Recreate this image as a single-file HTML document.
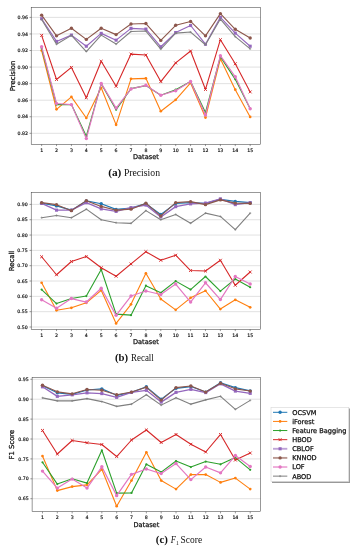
<!DOCTYPE html>
<html><head><meta charset="utf-8"><style>
html,body{margin:0;padding:0;background:#fff;}
body{width:356px;height:550px;overflow:hidden;}
svg{display:block;}
.tk{font-family:"DejaVu Sans","Liberation Sans",sans-serif;font-size:4.7px;fill:#111;stroke:#111;stroke-width:0.16px;}
.lb{font-family:"DejaVu Sans","Liberation Sans",sans-serif;font-size:6.6px;fill:#111;stroke:#111;stroke-width:0.25px;}
.lg{font-family:"DejaVu Sans","Liberation Sans",sans-serif;font-size:6.6px;fill:#111;stroke:#111;stroke-width:0.25px;}
.cap{font-family:"Liberation Serif","DejaVu Serif",serif;font-size:9.3px;fill:#111;}
</style></head><body>
<svg width="356" height="550" viewBox="0 0 356 550">
<rect width="356" height="550" fill="#fff"/>
<line x1="31.20" y1="133.32" x2="260.60" y2="133.32" stroke="#d9d9d9" stroke-width="0.8"/>
<line x1="31.20" y1="116.76" x2="260.60" y2="116.76" stroke="#d9d9d9" stroke-width="0.8"/>
<line x1="31.20" y1="100.20" x2="260.60" y2="100.20" stroke="#d9d9d9" stroke-width="0.8"/>
<line x1="31.20" y1="83.64" x2="260.60" y2="83.64" stroke="#d9d9d9" stroke-width="0.8"/>
<line x1="31.20" y1="67.08" x2="260.60" y2="67.08" stroke="#d9d9d9" stroke-width="0.8"/>
<line x1="31.20" y1="50.52" x2="260.60" y2="50.52" stroke="#d9d9d9" stroke-width="0.8"/>
<line x1="31.20" y1="33.96" x2="260.60" y2="33.96" stroke="#d9d9d9" stroke-width="0.8"/>
<line x1="31.20" y1="17.40" x2="260.60" y2="17.40" stroke="#d9d9d9" stroke-width="0.8"/>
<polyline points="41.63,50.52 56.52,109.31 71.42,96.89 86.32,118.00 101.21,87.78 116.11,124.87 131.00,78.84 145.90,78.34 160.80,111.21 175.69,99.79 190.59,82.98 205.48,117.59 220.38,58.80 235.28,89.68 250.17,116.93" fill="none" stroke="#ff7f0e" stroke-width="1.1" stroke-linejoin="round"/>
<circle cx="41.63" cy="50.52" r="1.35" fill="#ff7f0e"/>
<circle cx="56.52" cy="109.31" r="1.35" fill="#ff7f0e"/>
<circle cx="71.42" cy="96.89" r="1.35" fill="#ff7f0e"/>
<circle cx="86.32" cy="118.00" r="1.35" fill="#ff7f0e"/>
<circle cx="101.21" cy="87.78" r="1.35" fill="#ff7f0e"/>
<circle cx="116.11" cy="124.87" r="1.35" fill="#ff7f0e"/>
<circle cx="131.00" cy="78.84" r="1.35" fill="#ff7f0e"/>
<circle cx="145.90" cy="78.34" r="1.35" fill="#ff7f0e"/>
<circle cx="160.80" cy="111.21" r="1.35" fill="#ff7f0e"/>
<circle cx="175.69" cy="99.79" r="1.35" fill="#ff7f0e"/>
<circle cx="190.59" cy="82.98" r="1.35" fill="#ff7f0e"/>
<circle cx="205.48" cy="117.59" r="1.35" fill="#ff7f0e"/>
<circle cx="220.38" cy="58.80" r="1.35" fill="#ff7f0e"/>
<circle cx="235.28" cy="89.68" r="1.35" fill="#ff7f0e"/>
<circle cx="250.17" cy="116.93" r="1.35" fill="#ff7f0e"/>
<polyline points="41.63,48.04 56.52,104.59 71.42,104.59 86.32,136.14 101.21,83.64 116.11,109.72 131.00,88.61 145.90,85.63 160.80,95.23 175.69,89.68 190.59,81.57 205.48,112.45 220.38,56.65 235.28,79.33 250.17,108.73" fill="none" stroke="#2ca02c" stroke-width="1.1" stroke-linejoin="round"/>
<circle cx="41.63" cy="48.04" r="1.1" fill="#2ca02c"/>
<circle cx="56.52" cy="104.59" r="1.1" fill="#2ca02c"/>
<circle cx="71.42" cy="104.59" r="1.1" fill="#2ca02c"/>
<circle cx="86.32" cy="136.14" r="1.1" fill="#2ca02c"/>
<circle cx="101.21" cy="83.64" r="1.1" fill="#2ca02c"/>
<circle cx="116.11" cy="109.72" r="1.1" fill="#2ca02c"/>
<circle cx="131.00" cy="88.61" r="1.1" fill="#2ca02c"/>
<circle cx="145.90" cy="85.63" r="1.1" fill="#2ca02c"/>
<circle cx="160.80" cy="95.23" r="1.1" fill="#2ca02c"/>
<circle cx="175.69" cy="89.68" r="1.1" fill="#2ca02c"/>
<circle cx="190.59" cy="81.57" r="1.1" fill="#2ca02c"/>
<circle cx="205.48" cy="112.45" r="1.1" fill="#2ca02c"/>
<circle cx="220.38" cy="56.65" r="1.1" fill="#2ca02c"/>
<circle cx="235.28" cy="79.33" r="1.1" fill="#2ca02c"/>
<circle cx="250.17" cy="108.73" r="1.1" fill="#2ca02c"/>
<polyline points="41.63,35.37 56.52,79.50 71.42,67.41 86.32,97.72 101.21,61.28 116.11,86.29 131.00,54.08 145.90,55.07 160.80,81.57 175.69,62.94 190.59,51.02 205.48,89.44 220.38,39.67 235.28,63.77 250.17,91.92" fill="none" stroke="#d62728" stroke-width="1.1" stroke-linejoin="round"/>
<path d="M40.18 33.92L43.08 36.82M40.18 36.82L43.08 33.92" stroke="#d62728" stroke-width="0.95" fill="none"/>
<path d="M55.07 78.05L57.97 80.95M55.07 80.95L57.97 78.05" stroke="#d62728" stroke-width="0.95" fill="none"/>
<path d="M69.97 65.96L72.87 68.86M69.97 68.86L72.87 65.96" stroke="#d62728" stroke-width="0.95" fill="none"/>
<path d="M84.87 96.27L87.77 99.17M84.87 99.17L87.77 96.27" stroke="#d62728" stroke-width="0.95" fill="none"/>
<path d="M99.76 59.83L102.66 62.73M99.76 62.73L102.66 59.83" stroke="#d62728" stroke-width="0.95" fill="none"/>
<path d="M114.66 84.84L117.56 87.74M114.66 87.74L117.56 84.84" stroke="#d62728" stroke-width="0.95" fill="none"/>
<path d="M129.55 52.63L132.45 55.53M129.55 55.53L132.45 52.63" stroke="#d62728" stroke-width="0.95" fill="none"/>
<path d="M144.45 53.62L147.35 56.52M144.45 56.52L147.35 53.62" stroke="#d62728" stroke-width="0.95" fill="none"/>
<path d="M159.35 80.12L162.25 83.02M159.35 83.02L162.25 80.12" stroke="#d62728" stroke-width="0.95" fill="none"/>
<path d="M174.24 61.49L177.14 64.39M174.24 64.39L177.14 61.49" stroke="#d62728" stroke-width="0.95" fill="none"/>
<path d="M189.14 49.57L192.04 52.47M189.14 52.47L192.04 49.57" stroke="#d62728" stroke-width="0.95" fill="none"/>
<path d="M204.03 87.99L206.93 90.89M204.03 90.89L206.93 87.99" stroke="#d62728" stroke-width="0.95" fill="none"/>
<path d="M218.93 38.22L221.83 41.12M218.93 41.12L221.83 38.22" stroke="#d62728" stroke-width="0.95" fill="none"/>
<path d="M233.83 62.32L236.73 65.22M233.83 65.22L236.73 62.32" stroke="#d62728" stroke-width="0.95" fill="none"/>
<path d="M248.72 90.47L251.62 93.37M248.72 93.37L251.62 90.47" stroke="#d62728" stroke-width="0.95" fill="none"/>
<polyline points="41.63,18.72 56.52,41.41 71.42,35.12 86.32,46.21 101.21,33.38 116.11,40.17 131.00,28.33 145.90,29.07 160.80,46.79 175.69,32.55 190.59,25.51 205.48,44.23 220.38,17.40 235.28,33.13 250.17,46.21" fill="none" stroke="#9467bd" stroke-width="1.15" stroke-linejoin="round"/>
<rect x="40.08" y="17.17" width="3.1" height="3.1" fill="#9467bd"/>
<rect x="54.97" y="39.86" width="3.1" height="3.1" fill="#9467bd"/>
<rect x="69.87" y="33.57" width="3.1" height="3.1" fill="#9467bd"/>
<rect x="84.77" y="44.66" width="3.1" height="3.1" fill="#9467bd"/>
<rect x="99.66" y="31.83" width="3.1" height="3.1" fill="#9467bd"/>
<rect x="114.56" y="38.62" width="3.1" height="3.1" fill="#9467bd"/>
<rect x="129.45" y="26.78" width="3.1" height="3.1" fill="#9467bd"/>
<rect x="144.35" y="27.52" width="3.1" height="3.1" fill="#9467bd"/>
<rect x="159.25" y="45.24" width="3.1" height="3.1" fill="#9467bd"/>
<rect x="174.14" y="31.00" width="3.1" height="3.1" fill="#9467bd"/>
<rect x="189.04" y="23.96" width="3.1" height="3.1" fill="#9467bd"/>
<rect x="203.93" y="42.68" width="3.1" height="3.1" fill="#9467bd"/>
<rect x="218.83" y="15.85" width="3.1" height="3.1" fill="#9467bd"/>
<rect x="233.73" y="31.58" width="3.1" height="3.1" fill="#9467bd"/>
<rect x="248.62" y="44.66" width="3.1" height="3.1" fill="#9467bd"/>
<polyline points="41.63,15.16 56.52,35.86 71.42,28.25 86.32,39.42 101.21,28.25 116.11,34.62 131.00,24.02 145.90,23.53 160.80,40.42 175.69,25.27 190.59,21.46 205.48,35.86 220.38,13.67 235.28,29.32 250.17,37.93" fill="none" stroke="#8c564b" stroke-width="1.1" stroke-linejoin="round"/>
<circle cx="41.63" cy="15.16" r="1.7" fill="#8c564b"/>
<circle cx="56.52" cy="35.86" r="1.7" fill="#8c564b"/>
<circle cx="71.42" cy="28.25" r="1.7" fill="#8c564b"/>
<circle cx="86.32" cy="39.42" r="1.7" fill="#8c564b"/>
<circle cx="101.21" cy="28.25" r="1.7" fill="#8c564b"/>
<circle cx="116.11" cy="34.62" r="1.7" fill="#8c564b"/>
<circle cx="131.00" cy="24.02" r="1.7" fill="#8c564b"/>
<circle cx="145.90" cy="23.53" r="1.7" fill="#8c564b"/>
<circle cx="160.80" cy="40.42" r="1.7" fill="#8c564b"/>
<circle cx="175.69" cy="25.27" r="1.7" fill="#8c564b"/>
<circle cx="190.59" cy="21.46" r="1.7" fill="#8c564b"/>
<circle cx="205.48" cy="35.86" r="1.7" fill="#8c564b"/>
<circle cx="220.38" cy="13.67" r="1.7" fill="#8c564b"/>
<circle cx="235.28" cy="29.32" r="1.7" fill="#8c564b"/>
<circle cx="250.17" cy="37.93" r="1.7" fill="#8c564b"/>
<polyline points="41.63,46.71 56.52,103.51 71.42,104.59 86.32,138.62 101.21,83.39 116.11,108.07 131.00,88.94 145.90,85.30 160.80,95.23 175.69,90.68 190.59,81.57 205.48,114.94 220.38,55.65 235.28,76.77 250.17,108.73" fill="none" stroke="#e377c2" stroke-width="1.2" stroke-linejoin="round"/>
<circle cx="41.63" cy="46.71" r="1.7" fill="#e377c2"/>
<circle cx="56.52" cy="103.51" r="1.7" fill="#e377c2"/>
<circle cx="71.42" cy="104.59" r="1.7" fill="#e377c2"/>
<circle cx="86.32" cy="138.62" r="1.7" fill="#e377c2"/>
<circle cx="101.21" cy="83.39" r="1.7" fill="#e377c2"/>
<circle cx="116.11" cy="108.07" r="1.7" fill="#e377c2"/>
<circle cx="131.00" cy="88.94" r="1.7" fill="#e377c2"/>
<circle cx="145.90" cy="85.30" r="1.7" fill="#e377c2"/>
<circle cx="160.80" cy="95.23" r="1.7" fill="#e377c2"/>
<circle cx="175.69" cy="90.68" r="1.7" fill="#e377c2"/>
<circle cx="190.59" cy="81.57" r="1.7" fill="#e377c2"/>
<circle cx="205.48" cy="114.94" r="1.7" fill="#e377c2"/>
<circle cx="220.38" cy="55.65" r="1.7" fill="#e377c2"/>
<circle cx="235.28" cy="76.77" r="1.7" fill="#e377c2"/>
<circle cx="250.17" cy="108.73" r="1.7" fill="#e377c2"/>
<polyline points="41.63,19.47 56.52,44.23 71.42,35.37 86.32,51.51 101.21,35.12 116.11,44.06 131.00,31.48 145.90,31.06 160.80,49.03 175.69,33.13 190.59,32.06 205.48,44.72 220.38,19.06 235.28,36.69 250.17,48.86" fill="none" stroke="#7f7f7f" stroke-width="1.1" stroke-linejoin="round"/>
<path d="M41.63 18.37L41.63 20.57M40.53 19.47L42.73 19.47" stroke="#7f7f7f" stroke-width="0.6" fill="none"/>
<path d="M56.52 43.13L56.52 45.33M55.42 44.23L57.62 44.23" stroke="#7f7f7f" stroke-width="0.6" fill="none"/>
<path d="M71.42 34.27L71.42 36.47M70.32 35.37L72.52 35.37" stroke="#7f7f7f" stroke-width="0.6" fill="none"/>
<path d="M86.32 50.41L86.32 52.61M85.22 51.51L87.42 51.51" stroke="#7f7f7f" stroke-width="0.6" fill="none"/>
<path d="M101.21 34.02L101.21 36.22M100.11 35.12L102.31 35.12" stroke="#7f7f7f" stroke-width="0.6" fill="none"/>
<path d="M116.11 42.96L116.11 45.16M115.01 44.06L117.21 44.06" stroke="#7f7f7f" stroke-width="0.6" fill="none"/>
<path d="M131.00 30.38L131.00 32.58M129.90 31.48L132.10 31.48" stroke="#7f7f7f" stroke-width="0.6" fill="none"/>
<path d="M145.90 29.96L145.90 32.16M144.80 31.06L147.00 31.06" stroke="#7f7f7f" stroke-width="0.6" fill="none"/>
<path d="M160.80 47.93L160.80 50.13M159.70 49.03L161.90 49.03" stroke="#7f7f7f" stroke-width="0.6" fill="none"/>
<path d="M175.69 32.03L175.69 34.23M174.59 33.13L176.79 33.13" stroke="#7f7f7f" stroke-width="0.6" fill="none"/>
<path d="M190.59 30.96L190.59 33.16M189.49 32.06L191.69 32.06" stroke="#7f7f7f" stroke-width="0.6" fill="none"/>
<path d="M205.48 43.62L205.48 45.82M204.38 44.72L206.58 44.72" stroke="#7f7f7f" stroke-width="0.6" fill="none"/>
<path d="M220.38 17.96L220.38 20.16M219.28 19.06L221.48 19.06" stroke="#7f7f7f" stroke-width="0.6" fill="none"/>
<path d="M235.28 35.59L235.28 37.79M234.18 36.69L236.38 36.69" stroke="#7f7f7f" stroke-width="0.6" fill="none"/>
<path d="M250.17 47.76L250.17 49.96M249.07 48.86L251.27 48.86" stroke="#7f7f7f" stroke-width="0.6" fill="none"/>
<rect x="31.20" y="7.50" width="229.40" height="136.90" fill="none" stroke="#333" stroke-width="0.5"/>
<line x1="29.50" y1="133.32" x2="31.20" y2="133.32" stroke="#333" stroke-width="0.5"/>
<text x="28.00" y="134.97" class="tk" text-anchor="end">0.82</text>
<line x1="29.50" y1="116.76" x2="31.20" y2="116.76" stroke="#333" stroke-width="0.5"/>
<text x="28.00" y="118.41" class="tk" text-anchor="end">0.84</text>
<line x1="29.50" y1="100.20" x2="31.20" y2="100.20" stroke="#333" stroke-width="0.5"/>
<text x="28.00" y="101.85" class="tk" text-anchor="end">0.86</text>
<line x1="29.50" y1="83.64" x2="31.20" y2="83.64" stroke="#333" stroke-width="0.5"/>
<text x="28.00" y="85.29" class="tk" text-anchor="end">0.88</text>
<line x1="29.50" y1="67.08" x2="31.20" y2="67.08" stroke="#333" stroke-width="0.5"/>
<text x="28.00" y="68.73" class="tk" text-anchor="end">0.90</text>
<line x1="29.50" y1="50.52" x2="31.20" y2="50.52" stroke="#333" stroke-width="0.5"/>
<text x="28.00" y="52.17" class="tk" text-anchor="end">0.92</text>
<line x1="29.50" y1="33.96" x2="31.20" y2="33.96" stroke="#333" stroke-width="0.5"/>
<text x="28.00" y="35.61" class="tk" text-anchor="end">0.94</text>
<line x1="29.50" y1="17.40" x2="31.20" y2="17.40" stroke="#333" stroke-width="0.5"/>
<text x="28.00" y="19.05" class="tk" text-anchor="end">0.96</text>
<line x1="41.63" y1="144.40" x2="41.63" y2="146.10" stroke="#333" stroke-width="0.5"/>
<text x="41.63" y="151.50" class="tk" text-anchor="middle">1</text>
<line x1="56.52" y1="144.40" x2="56.52" y2="146.10" stroke="#333" stroke-width="0.5"/>
<text x="56.52" y="151.50" class="tk" text-anchor="middle">2</text>
<line x1="71.42" y1="144.40" x2="71.42" y2="146.10" stroke="#333" stroke-width="0.5"/>
<text x="71.42" y="151.50" class="tk" text-anchor="middle">3</text>
<line x1="86.32" y1="144.40" x2="86.32" y2="146.10" stroke="#333" stroke-width="0.5"/>
<text x="86.32" y="151.50" class="tk" text-anchor="middle">4</text>
<line x1="101.21" y1="144.40" x2="101.21" y2="146.10" stroke="#333" stroke-width="0.5"/>
<text x="101.21" y="151.50" class="tk" text-anchor="middle">5</text>
<line x1="116.11" y1="144.40" x2="116.11" y2="146.10" stroke="#333" stroke-width="0.5"/>
<text x="116.11" y="151.50" class="tk" text-anchor="middle">6</text>
<line x1="131.00" y1="144.40" x2="131.00" y2="146.10" stroke="#333" stroke-width="0.5"/>
<text x="131.00" y="151.50" class="tk" text-anchor="middle">7</text>
<line x1="145.90" y1="144.40" x2="145.90" y2="146.10" stroke="#333" stroke-width="0.5"/>
<text x="145.90" y="151.50" class="tk" text-anchor="middle">8</text>
<line x1="160.80" y1="144.40" x2="160.80" y2="146.10" stroke="#333" stroke-width="0.5"/>
<text x="160.80" y="151.50" class="tk" text-anchor="middle">9</text>
<line x1="175.69" y1="144.40" x2="175.69" y2="146.10" stroke="#333" stroke-width="0.5"/>
<text x="175.69" y="151.50" class="tk" text-anchor="middle">10</text>
<line x1="190.59" y1="144.40" x2="190.59" y2="146.10" stroke="#333" stroke-width="0.5"/>
<text x="190.59" y="151.50" class="tk" text-anchor="middle">11</text>
<line x1="205.48" y1="144.40" x2="205.48" y2="146.10" stroke="#333" stroke-width="0.5"/>
<text x="205.48" y="151.50" class="tk" text-anchor="middle">12</text>
<line x1="220.38" y1="144.40" x2="220.38" y2="146.10" stroke="#333" stroke-width="0.5"/>
<text x="220.38" y="151.50" class="tk" text-anchor="middle">13</text>
<line x1="235.28" y1="144.40" x2="235.28" y2="146.10" stroke="#333" stroke-width="0.5"/>
<text x="235.28" y="151.50" class="tk" text-anchor="middle">14</text>
<line x1="250.17" y1="144.40" x2="250.17" y2="146.10" stroke="#333" stroke-width="0.5"/>
<text x="250.17" y="151.50" class="tk" text-anchor="middle">15</text>
<text x="145.90" y="159.40" class="lb" text-anchor="middle">Dataset</text>
<text transform="translate(14.70,75.95) rotate(-90)" class="lb" style="font-size:6.85px" text-anchor="middle">Precision</text>
<line x1="31.20" y1="327.00" x2="260.60" y2="327.00" stroke="#d9d9d9" stroke-width="0.8"/>
<line x1="31.20" y1="311.68" x2="260.60" y2="311.68" stroke="#d9d9d9" stroke-width="0.8"/>
<line x1="31.20" y1="296.35" x2="260.60" y2="296.35" stroke="#d9d9d9" stroke-width="0.8"/>
<line x1="31.20" y1="281.02" x2="260.60" y2="281.02" stroke="#d9d9d9" stroke-width="0.8"/>
<line x1="31.20" y1="265.70" x2="260.60" y2="265.70" stroke="#d9d9d9" stroke-width="0.8"/>
<line x1="31.20" y1="250.38" x2="260.60" y2="250.38" stroke="#d9d9d9" stroke-width="0.8"/>
<line x1="31.20" y1="235.05" x2="260.60" y2="235.05" stroke="#d9d9d9" stroke-width="0.8"/>
<line x1="31.20" y1="219.72" x2="260.60" y2="219.72" stroke="#d9d9d9" stroke-width="0.8"/>
<line x1="31.20" y1="204.40" x2="260.60" y2="204.40" stroke="#d9d9d9" stroke-width="0.8"/>
<polyline points="41.63,203.14 56.52,205.90 71.42,210.16 86.32,200.90 101.21,203.81 116.11,209.39 131.00,208.16 145.90,203.66 160.80,214.42 175.69,203.38 190.59,202.65 205.48,203.38 220.38,199.40 235.28,201.42 250.17,202.65" fill="none" stroke="#1f77b4" stroke-width="1.15" stroke-linejoin="round"/>
<circle cx="41.63" cy="203.14" r="1.7" fill="#1f77b4"/>
<circle cx="56.52" cy="205.90" r="1.7" fill="#1f77b4"/>
<circle cx="71.42" cy="210.16" r="1.7" fill="#1f77b4"/>
<circle cx="86.32" cy="200.90" r="1.7" fill="#1f77b4"/>
<circle cx="101.21" cy="203.81" r="1.7" fill="#1f77b4"/>
<circle cx="116.11" cy="209.39" r="1.7" fill="#1f77b4"/>
<circle cx="131.00" cy="208.16" r="1.7" fill="#1f77b4"/>
<circle cx="145.90" cy="203.66" r="1.7" fill="#1f77b4"/>
<circle cx="160.80" cy="214.42" r="1.7" fill="#1f77b4"/>
<circle cx="175.69" cy="203.38" r="1.7" fill="#1f77b4"/>
<circle cx="190.59" cy="202.65" r="1.7" fill="#1f77b4"/>
<circle cx="205.48" cy="203.38" r="1.7" fill="#1f77b4"/>
<circle cx="220.38" cy="199.40" r="1.7" fill="#1f77b4"/>
<circle cx="235.28" cy="201.42" r="1.7" fill="#1f77b4"/>
<circle cx="250.17" cy="202.65" r="1.7" fill="#1f77b4"/>
<polyline points="41.63,282.77 56.52,310.32 71.42,307.81 86.32,302.81 101.21,290.31 116.11,323.41 131.00,304.34 145.90,273.30 160.80,299.07 175.69,309.83 190.59,297.82 205.48,290.74 220.38,309.06 235.28,299.81 250.17,307.32" fill="none" stroke="#ff7f0e" stroke-width="1.1" stroke-linejoin="round"/>
<circle cx="41.63" cy="282.77" r="1.35" fill="#ff7f0e"/>
<circle cx="56.52" cy="310.32" r="1.35" fill="#ff7f0e"/>
<circle cx="71.42" cy="307.81" r="1.35" fill="#ff7f0e"/>
<circle cx="86.32" cy="302.81" r="1.35" fill="#ff7f0e"/>
<circle cx="101.21" cy="290.31" r="1.35" fill="#ff7f0e"/>
<circle cx="116.11" cy="323.41" r="1.35" fill="#ff7f0e"/>
<circle cx="131.00" cy="304.34" r="1.35" fill="#ff7f0e"/>
<circle cx="145.90" cy="273.30" r="1.35" fill="#ff7f0e"/>
<circle cx="160.80" cy="299.07" r="1.35" fill="#ff7f0e"/>
<circle cx="175.69" cy="309.83" r="1.35" fill="#ff7f0e"/>
<circle cx="190.59" cy="297.82" r="1.35" fill="#ff7f0e"/>
<circle cx="205.48" cy="290.74" r="1.35" fill="#ff7f0e"/>
<circle cx="220.38" cy="309.06" r="1.35" fill="#ff7f0e"/>
<circle cx="235.28" cy="299.81" r="1.35" fill="#ff7f0e"/>
<circle cx="250.17" cy="307.32" r="1.35" fill="#ff7f0e"/>
<polyline points="41.63,289.54 56.52,303.55 71.42,298.55 86.32,296.04 101.21,269.47 116.11,314.09 131.00,315.13 145.90,285.71 160.80,292.76 175.69,281.11 190.59,289.60 205.48,276.51 220.38,291.10 235.28,279.03 250.17,287.24" fill="none" stroke="#2ca02c" stroke-width="1.1" stroke-linejoin="round"/>
<circle cx="41.63" cy="289.54" r="1.1" fill="#2ca02c"/>
<circle cx="56.52" cy="303.55" r="1.1" fill="#2ca02c"/>
<circle cx="71.42" cy="298.55" r="1.1" fill="#2ca02c"/>
<circle cx="86.32" cy="296.04" r="1.1" fill="#2ca02c"/>
<circle cx="101.21" cy="269.47" r="1.1" fill="#2ca02c"/>
<circle cx="116.11" cy="314.09" r="1.1" fill="#2ca02c"/>
<circle cx="131.00" cy="315.13" r="1.1" fill="#2ca02c"/>
<circle cx="145.90" cy="285.71" r="1.1" fill="#2ca02c"/>
<circle cx="160.80" cy="292.76" r="1.1" fill="#2ca02c"/>
<circle cx="175.69" cy="281.11" r="1.1" fill="#2ca02c"/>
<circle cx="190.59" cy="289.60" r="1.1" fill="#2ca02c"/>
<circle cx="205.48" cy="276.51" r="1.1" fill="#2ca02c"/>
<circle cx="220.38" cy="291.10" r="1.1" fill="#2ca02c"/>
<circle cx="235.28" cy="279.03" r="1.1" fill="#2ca02c"/>
<circle cx="250.17" cy="287.24" r="1.1" fill="#2ca02c"/>
<polyline points="41.63,256.75 56.52,274.74 71.42,261.50 86.32,256.47 101.21,267.75 116.11,276.21 131.00,263.95 145.90,251.69 160.80,260.27 175.69,255.24 190.59,270.54 205.48,271.00 220.38,260.27 235.28,285.25 250.17,272.01" fill="none" stroke="#d62728" stroke-width="1.1" stroke-linejoin="round"/>
<path d="M40.18 255.30L43.08 258.20M40.18 258.20L43.08 255.30" stroke="#d62728" stroke-width="0.95" fill="none"/>
<path d="M55.07 273.29L57.97 276.19M55.07 276.19L57.97 273.29" stroke="#d62728" stroke-width="0.95" fill="none"/>
<path d="M69.97 260.05L72.87 262.95M69.97 262.95L72.87 260.05" stroke="#d62728" stroke-width="0.95" fill="none"/>
<path d="M84.87 255.02L87.77 257.92M84.87 257.92L87.77 255.02" stroke="#d62728" stroke-width="0.95" fill="none"/>
<path d="M99.76 266.30L102.66 269.20M99.76 269.20L102.66 266.30" stroke="#d62728" stroke-width="0.95" fill="none"/>
<path d="M114.66 274.76L117.56 277.66M114.66 277.66L117.56 274.76" stroke="#d62728" stroke-width="0.95" fill="none"/>
<path d="M129.55 262.50L132.45 265.40M129.55 265.40L132.45 262.50" stroke="#d62728" stroke-width="0.95" fill="none"/>
<path d="M144.45 250.24L147.35 253.14M144.45 253.14L147.35 250.24" stroke="#d62728" stroke-width="0.95" fill="none"/>
<path d="M159.35 258.82L162.25 261.72M159.35 261.72L162.25 258.82" stroke="#d62728" stroke-width="0.95" fill="none"/>
<path d="M174.24 253.79L177.14 256.69M174.24 256.69L177.14 253.79" stroke="#d62728" stroke-width="0.95" fill="none"/>
<path d="M189.14 269.09L192.04 271.99M189.14 271.99L192.04 269.09" stroke="#d62728" stroke-width="0.95" fill="none"/>
<path d="M204.03 269.55L206.93 272.45M204.03 272.45L206.93 269.55" stroke="#d62728" stroke-width="0.95" fill="none"/>
<path d="M218.93 258.82L221.83 261.72M218.93 261.72L221.83 258.82" stroke="#d62728" stroke-width="0.95" fill="none"/>
<path d="M233.83 283.80L236.73 286.70M233.83 286.70L236.73 283.80" stroke="#d62728" stroke-width="0.95" fill="none"/>
<path d="M248.72 270.56L251.62 273.46M248.72 273.46L251.62 270.56" stroke="#d62728" stroke-width="0.95" fill="none"/>
<polyline points="41.63,203.38 56.52,210.16 71.42,210.16 86.32,202.65 101.21,208.90 116.11,211.41 131.00,207.64 145.90,205.10 160.80,216.93 175.69,206.63 190.59,203.87 205.48,203.14 220.38,198.88 235.28,204.64 250.17,202.65" fill="none" stroke="#9467bd" stroke-width="1.3" stroke-linejoin="round"/>
<rect x="40.08" y="201.83" width="3.1" height="3.1" fill="#9467bd"/>
<rect x="54.97" y="208.61" width="3.1" height="3.1" fill="#9467bd"/>
<rect x="69.87" y="208.61" width="3.1" height="3.1" fill="#9467bd"/>
<rect x="84.77" y="201.10" width="3.1" height="3.1" fill="#9467bd"/>
<rect x="99.66" y="207.35" width="3.1" height="3.1" fill="#9467bd"/>
<rect x="114.56" y="209.86" width="3.1" height="3.1" fill="#9467bd"/>
<rect x="129.45" y="206.09" width="3.1" height="3.1" fill="#9467bd"/>
<rect x="144.35" y="203.55" width="3.1" height="3.1" fill="#9467bd"/>
<rect x="159.25" y="215.38" width="3.1" height="3.1" fill="#9467bd"/>
<rect x="174.14" y="205.08" width="3.1" height="3.1" fill="#9467bd"/>
<rect x="189.04" y="202.32" width="3.1" height="3.1" fill="#9467bd"/>
<rect x="203.93" y="201.59" width="3.1" height="3.1" fill="#9467bd"/>
<rect x="218.83" y="197.33" width="3.1" height="3.1" fill="#9467bd"/>
<rect x="233.73" y="203.09" width="3.1" height="3.1" fill="#9467bd"/>
<rect x="248.62" y="201.10" width="3.1" height="3.1" fill="#9467bd"/>
<polyline points="41.63,202.65 56.52,204.64 71.42,210.65 86.32,200.66 101.21,206.39 116.11,210.16 131.00,209.15 145.90,203.14 160.80,215.92 175.69,202.65 190.59,201.64 205.48,204.64 220.38,199.89 235.28,203.14 250.17,203.38" fill="none" stroke="#8c564b" stroke-width="1.1" stroke-linejoin="round"/>
<circle cx="41.63" cy="202.65" r="1.7" fill="#8c564b"/>
<circle cx="56.52" cy="204.64" r="1.7" fill="#8c564b"/>
<circle cx="71.42" cy="210.65" r="1.7" fill="#8c564b"/>
<circle cx="86.32" cy="200.66" r="1.7" fill="#8c564b"/>
<circle cx="101.21" cy="206.39" r="1.7" fill="#8c564b"/>
<circle cx="116.11" cy="210.16" r="1.7" fill="#8c564b"/>
<circle cx="131.00" cy="209.15" r="1.7" fill="#8c564b"/>
<circle cx="145.90" cy="203.14" r="1.7" fill="#8c564b"/>
<circle cx="160.80" cy="215.92" r="1.7" fill="#8c564b"/>
<circle cx="175.69" cy="202.65" r="1.7" fill="#8c564b"/>
<circle cx="190.59" cy="201.64" r="1.7" fill="#8c564b"/>
<circle cx="205.48" cy="204.64" r="1.7" fill="#8c564b"/>
<circle cx="220.38" cy="199.89" r="1.7" fill="#8c564b"/>
<circle cx="235.28" cy="203.14" r="1.7" fill="#8c564b"/>
<circle cx="250.17" cy="203.38" r="1.7" fill="#8c564b"/>
<polyline points="41.63,299.81 56.52,308.30 71.42,298.55 86.32,302.05 101.21,288.25 116.11,315.35 131.00,296.04 145.90,291.01 160.80,294.54 175.69,284.02 190.59,302.05 205.48,282.77 220.38,299.56 235.28,276.51 250.17,284.02" fill="none" stroke="#e377c2" stroke-width="1.2" stroke-linejoin="round"/>
<circle cx="41.63" cy="299.81" r="1.7" fill="#e377c2"/>
<circle cx="56.52" cy="308.30" r="1.7" fill="#e377c2"/>
<circle cx="71.42" cy="298.55" r="1.7" fill="#e377c2"/>
<circle cx="86.32" cy="302.05" r="1.7" fill="#e377c2"/>
<circle cx="101.21" cy="288.25" r="1.7" fill="#e377c2"/>
<circle cx="116.11" cy="315.35" r="1.7" fill="#e377c2"/>
<circle cx="131.00" cy="296.04" r="1.7" fill="#e377c2"/>
<circle cx="145.90" cy="291.01" r="1.7" fill="#e377c2"/>
<circle cx="160.80" cy="294.54" r="1.7" fill="#e377c2"/>
<circle cx="175.69" cy="284.02" r="1.7" fill="#e377c2"/>
<circle cx="190.59" cy="302.05" r="1.7" fill="#e377c2"/>
<circle cx="205.48" cy="282.77" r="1.7" fill="#e377c2"/>
<circle cx="220.38" cy="299.56" r="1.7" fill="#e377c2"/>
<circle cx="235.28" cy="276.51" r="1.7" fill="#e377c2"/>
<circle cx="250.17" cy="284.02" r="1.7" fill="#e377c2"/>
<polyline points="41.63,217.67 56.52,215.43 71.42,217.67 86.32,209.15 101.21,219.81 116.11,222.69 131.00,223.34 145.90,210.65 160.80,219.69 175.69,214.42 190.59,223.18 205.48,213.16 220.38,216.44 235.28,229.68 250.17,213.16" fill="none" stroke="#7f7f7f" stroke-width="1.1" stroke-linejoin="round"/>
<path d="M41.63 216.57L41.63 218.77M40.53 217.67L42.73 217.67" stroke="#7f7f7f" stroke-width="0.6" fill="none"/>
<path d="M56.52 214.33L56.52 216.53M55.42 215.43L57.62 215.43" stroke="#7f7f7f" stroke-width="0.6" fill="none"/>
<path d="M71.42 216.57L71.42 218.77M70.32 217.67L72.52 217.67" stroke="#7f7f7f" stroke-width="0.6" fill="none"/>
<path d="M86.32 208.05L86.32 210.25M85.22 209.15L87.42 209.15" stroke="#7f7f7f" stroke-width="0.6" fill="none"/>
<path d="M101.21 218.71L101.21 220.91M100.11 219.81L102.31 219.81" stroke="#7f7f7f" stroke-width="0.6" fill="none"/>
<path d="M116.11 221.59L116.11 223.79M115.01 222.69L117.21 222.69" stroke="#7f7f7f" stroke-width="0.6" fill="none"/>
<path d="M131.00 222.24L131.00 224.44M129.90 223.34L132.10 223.34" stroke="#7f7f7f" stroke-width="0.6" fill="none"/>
<path d="M145.90 209.55L145.90 211.75M144.80 210.65L147.00 210.65" stroke="#7f7f7f" stroke-width="0.6" fill="none"/>
<path d="M160.80 218.59L160.80 220.79M159.70 219.69L161.90 219.69" stroke="#7f7f7f" stroke-width="0.6" fill="none"/>
<path d="M175.69 213.32L175.69 215.52M174.59 214.42L176.79 214.42" stroke="#7f7f7f" stroke-width="0.6" fill="none"/>
<path d="M190.59 222.08L190.59 224.28M189.49 223.18L191.69 223.18" stroke="#7f7f7f" stroke-width="0.6" fill="none"/>
<path d="M205.48 212.06L205.48 214.26M204.38 213.16L206.58 213.16" stroke="#7f7f7f" stroke-width="0.6" fill="none"/>
<path d="M220.38 215.34L220.38 217.54M219.28 216.44L221.48 216.44" stroke="#7f7f7f" stroke-width="0.6" fill="none"/>
<path d="M235.28 228.58L235.28 230.78M234.18 229.68L236.38 229.68" stroke="#7f7f7f" stroke-width="0.6" fill="none"/>
<path d="M250.17 212.06L250.17 214.26M249.07 213.16L251.27 213.16" stroke="#7f7f7f" stroke-width="0.6" fill="none"/>
<rect x="31.20" y="192.50" width="229.40" height="136.90" fill="none" stroke="#333" stroke-width="0.5"/>
<line x1="29.50" y1="327.00" x2="31.20" y2="327.00" stroke="#333" stroke-width="0.5"/>
<text x="27.80" y="328.65" class="tk" text-anchor="end">0.50</text>
<line x1="29.50" y1="311.68" x2="31.20" y2="311.68" stroke="#333" stroke-width="0.5"/>
<text x="27.80" y="313.32" class="tk" text-anchor="end">0.55</text>
<line x1="29.50" y1="296.35" x2="31.20" y2="296.35" stroke="#333" stroke-width="0.5"/>
<text x="27.80" y="298.00" class="tk" text-anchor="end">0.60</text>
<line x1="29.50" y1="281.02" x2="31.20" y2="281.02" stroke="#333" stroke-width="0.5"/>
<text x="27.80" y="282.67" class="tk" text-anchor="end">0.65</text>
<line x1="29.50" y1="265.70" x2="31.20" y2="265.70" stroke="#333" stroke-width="0.5"/>
<text x="27.80" y="267.35" class="tk" text-anchor="end">0.70</text>
<line x1="29.50" y1="250.38" x2="31.20" y2="250.38" stroke="#333" stroke-width="0.5"/>
<text x="27.80" y="252.03" class="tk" text-anchor="end">0.75</text>
<line x1="29.50" y1="235.05" x2="31.20" y2="235.05" stroke="#333" stroke-width="0.5"/>
<text x="27.80" y="236.70" class="tk" text-anchor="end">0.80</text>
<line x1="29.50" y1="219.72" x2="31.20" y2="219.72" stroke="#333" stroke-width="0.5"/>
<text x="27.80" y="221.38" class="tk" text-anchor="end">0.85</text>
<line x1="29.50" y1="204.40" x2="31.20" y2="204.40" stroke="#333" stroke-width="0.5"/>
<text x="27.80" y="206.05" class="tk" text-anchor="end">0.90</text>
<line x1="41.63" y1="329.40" x2="41.63" y2="331.10" stroke="#333" stroke-width="0.5"/>
<text x="41.63" y="336.50" class="tk" text-anchor="middle">1</text>
<line x1="56.52" y1="329.40" x2="56.52" y2="331.10" stroke="#333" stroke-width="0.5"/>
<text x="56.52" y="336.50" class="tk" text-anchor="middle">2</text>
<line x1="71.42" y1="329.40" x2="71.42" y2="331.10" stroke="#333" stroke-width="0.5"/>
<text x="71.42" y="336.50" class="tk" text-anchor="middle">3</text>
<line x1="86.32" y1="329.40" x2="86.32" y2="331.10" stroke="#333" stroke-width="0.5"/>
<text x="86.32" y="336.50" class="tk" text-anchor="middle">4</text>
<line x1="101.21" y1="329.40" x2="101.21" y2="331.10" stroke="#333" stroke-width="0.5"/>
<text x="101.21" y="336.50" class="tk" text-anchor="middle">5</text>
<line x1="116.11" y1="329.40" x2="116.11" y2="331.10" stroke="#333" stroke-width="0.5"/>
<text x="116.11" y="336.50" class="tk" text-anchor="middle">6</text>
<line x1="131.00" y1="329.40" x2="131.00" y2="331.10" stroke="#333" stroke-width="0.5"/>
<text x="131.00" y="336.50" class="tk" text-anchor="middle">7</text>
<line x1="145.90" y1="329.40" x2="145.90" y2="331.10" stroke="#333" stroke-width="0.5"/>
<text x="145.90" y="336.50" class="tk" text-anchor="middle">8</text>
<line x1="160.80" y1="329.40" x2="160.80" y2="331.10" stroke="#333" stroke-width="0.5"/>
<text x="160.80" y="336.50" class="tk" text-anchor="middle">9</text>
<line x1="175.69" y1="329.40" x2="175.69" y2="331.10" stroke="#333" stroke-width="0.5"/>
<text x="175.69" y="336.50" class="tk" text-anchor="middle">10</text>
<line x1="190.59" y1="329.40" x2="190.59" y2="331.10" stroke="#333" stroke-width="0.5"/>
<text x="190.59" y="336.50" class="tk" text-anchor="middle">11</text>
<line x1="205.48" y1="329.40" x2="205.48" y2="331.10" stroke="#333" stroke-width="0.5"/>
<text x="205.48" y="336.50" class="tk" text-anchor="middle">12</text>
<line x1="220.38" y1="329.40" x2="220.38" y2="331.10" stroke="#333" stroke-width="0.5"/>
<text x="220.38" y="336.50" class="tk" text-anchor="middle">13</text>
<line x1="235.28" y1="329.40" x2="235.28" y2="331.10" stroke="#333" stroke-width="0.5"/>
<text x="235.28" y="336.50" class="tk" text-anchor="middle">14</text>
<line x1="250.17" y1="329.40" x2="250.17" y2="331.10" stroke="#333" stroke-width="0.5"/>
<text x="250.17" y="336.50" class="tk" text-anchor="middle">15</text>
<text x="145.90" y="344.40" class="lb" text-anchor="middle">Dataset</text>
<text transform="translate(14.40,260.95) rotate(-90)" class="lb" style="font-size:6.85px" text-anchor="middle">Recall</text>
<line x1="32.10" y1="498.70" x2="260.60" y2="498.70" stroke="#d9d9d9" stroke-width="0.8"/>
<line x1="32.10" y1="478.80" x2="260.60" y2="478.80" stroke="#d9d9d9" stroke-width="0.8"/>
<line x1="32.10" y1="458.90" x2="260.60" y2="458.90" stroke="#d9d9d9" stroke-width="0.8"/>
<line x1="32.10" y1="439.00" x2="260.60" y2="439.00" stroke="#d9d9d9" stroke-width="0.8"/>
<line x1="32.10" y1="419.10" x2="260.60" y2="419.10" stroke="#d9d9d9" stroke-width="0.8"/>
<line x1="32.10" y1="399.20" x2="260.60" y2="399.20" stroke="#d9d9d9" stroke-width="0.8"/>
<line x1="32.10" y1="379.30" x2="260.60" y2="379.30" stroke="#d9d9d9" stroke-width="0.8"/>
<polyline points="42.49,385.83 57.32,392.83 72.16,394.34 87.00,390.05 101.84,388.85 116.67,395.34 131.51,392.35 146.35,386.82 161.19,399.12 176.03,388.33 190.86,386.58 205.70,392.08 220.54,382.80 235.38,387.58 250.21,390.84" fill="none" stroke="#1f77b4" stroke-width="1.15" stroke-linejoin="round"/>
<circle cx="42.49" cy="385.83" r="1.7" fill="#1f77b4"/>
<circle cx="57.32" cy="392.83" r="1.7" fill="#1f77b4"/>
<circle cx="72.16" cy="394.34" r="1.7" fill="#1f77b4"/>
<circle cx="87.00" cy="390.05" r="1.7" fill="#1f77b4"/>
<circle cx="101.84" cy="388.85" r="1.7" fill="#1f77b4"/>
<circle cx="116.67" cy="395.34" r="1.7" fill="#1f77b4"/>
<circle cx="131.51" cy="392.35" r="1.7" fill="#1f77b4"/>
<circle cx="146.35" cy="386.82" r="1.7" fill="#1f77b4"/>
<circle cx="161.19" cy="399.12" r="1.7" fill="#1f77b4"/>
<circle cx="176.03" cy="388.33" r="1.7" fill="#1f77b4"/>
<circle cx="190.86" cy="386.58" r="1.7" fill="#1f77b4"/>
<circle cx="205.70" cy="392.08" r="1.7" fill="#1f77b4"/>
<circle cx="220.54" cy="382.80" r="1.7" fill="#1f77b4"/>
<circle cx="235.38" cy="387.58" r="1.7" fill="#1f77b4"/>
<circle cx="250.21" cy="390.84" r="1.7" fill="#1f77b4"/>
<polyline points="42.49,456.03 57.32,490.62 72.16,486.60 87.00,484.85 101.84,469.33 116.67,506.18 131.51,480.59 146.35,452.25 161.19,480.59 176.03,489.11 190.86,474.58 205.70,474.58 220.54,482.38 235.38,478.08 250.21,489.11" fill="none" stroke="#ff7f0e" stroke-width="1.1" stroke-linejoin="round"/>
<circle cx="42.49" cy="456.03" r="1.35" fill="#ff7f0e"/>
<circle cx="57.32" cy="490.62" r="1.35" fill="#ff7f0e"/>
<circle cx="72.16" cy="486.60" r="1.35" fill="#ff7f0e"/>
<circle cx="87.00" cy="484.85" r="1.35" fill="#ff7f0e"/>
<circle cx="101.84" cy="469.33" r="1.35" fill="#ff7f0e"/>
<circle cx="116.67" cy="506.18" r="1.35" fill="#ff7f0e"/>
<circle cx="131.51" cy="480.59" r="1.35" fill="#ff7f0e"/>
<circle cx="146.35" cy="452.25" r="1.35" fill="#ff7f0e"/>
<circle cx="161.19" cy="480.59" r="1.35" fill="#ff7f0e"/>
<circle cx="176.03" cy="489.11" r="1.35" fill="#ff7f0e"/>
<circle cx="190.86" cy="474.58" r="1.35" fill="#ff7f0e"/>
<circle cx="205.70" cy="474.58" r="1.35" fill="#ff7f0e"/>
<circle cx="220.54" cy="482.38" r="1.35" fill="#ff7f0e"/>
<circle cx="235.38" cy="478.08" r="1.35" fill="#ff7f0e"/>
<circle cx="250.21" cy="489.11" r="1.35" fill="#ff7f0e"/>
<polyline points="42.49,462.28 57.32,484.09 72.16,478.80 87.00,483.10 101.84,450.26 116.67,493.13 131.51,492.89 146.35,464.31 161.19,472.07 176.03,461.05 190.86,467.06 205.70,461.53 220.54,464.31 235.38,457.55 250.21,469.81" fill="none" stroke="#2ca02c" stroke-width="1.1" stroke-linejoin="round"/>
<circle cx="42.49" cy="462.28" r="1.1" fill="#2ca02c"/>
<circle cx="57.32" cy="484.09" r="1.1" fill="#2ca02c"/>
<circle cx="72.16" cy="478.80" r="1.1" fill="#2ca02c"/>
<circle cx="87.00" cy="483.10" r="1.1" fill="#2ca02c"/>
<circle cx="101.84" cy="450.26" r="1.1" fill="#2ca02c"/>
<circle cx="116.67" cy="493.13" r="1.1" fill="#2ca02c"/>
<circle cx="131.51" cy="492.89" r="1.1" fill="#2ca02c"/>
<circle cx="146.35" cy="464.31" r="1.1" fill="#2ca02c"/>
<circle cx="161.19" cy="472.07" r="1.1" fill="#2ca02c"/>
<circle cx="176.03" cy="461.05" r="1.1" fill="#2ca02c"/>
<circle cx="190.86" cy="467.06" r="1.1" fill="#2ca02c"/>
<circle cx="205.70" cy="461.53" r="1.1" fill="#2ca02c"/>
<circle cx="220.54" cy="464.31" r="1.1" fill="#2ca02c"/>
<circle cx="235.38" cy="457.55" r="1.1" fill="#2ca02c"/>
<circle cx="250.21" cy="469.81" r="1.1" fill="#2ca02c"/>
<polyline points="42.49,430.44 57.32,454.00 72.16,440.47 87.00,442.74 101.84,444.49 116.67,456.51 131.51,440.00 146.35,429.97 161.19,442.50 176.03,434.46 190.86,444.25 205.70,452.01 220.54,434.46 235.38,460.05 250.21,453.01" fill="none" stroke="#d62728" stroke-width="1.1" stroke-linejoin="round"/>
<path d="M41.04 428.99L43.94 431.89M41.04 431.89L43.94 428.99" stroke="#d62728" stroke-width="0.95" fill="none"/>
<path d="M55.87 452.55L58.77 455.45M55.87 455.45L58.77 452.55" stroke="#d62728" stroke-width="0.95" fill="none"/>
<path d="M70.71 439.02L73.61 441.92M70.71 441.92L73.61 439.02" stroke="#d62728" stroke-width="0.95" fill="none"/>
<path d="M85.55 441.29L88.45 444.19M85.55 444.19L88.45 441.29" stroke="#d62728" stroke-width="0.95" fill="none"/>
<path d="M100.39 443.04L103.29 445.94M100.39 445.94L103.29 443.04" stroke="#d62728" stroke-width="0.95" fill="none"/>
<path d="M115.22 455.06L118.12 457.96M115.22 457.96L118.12 455.06" stroke="#d62728" stroke-width="0.95" fill="none"/>
<path d="M130.06 438.55L132.96 441.44M130.06 441.44L132.96 438.55" stroke="#d62728" stroke-width="0.95" fill="none"/>
<path d="M144.90 428.52L147.80 431.42M144.90 431.42L147.80 428.52" stroke="#d62728" stroke-width="0.95" fill="none"/>
<path d="M159.74 441.05L162.64 443.95M159.74 443.95L162.64 441.05" stroke="#d62728" stroke-width="0.95" fill="none"/>
<path d="M174.58 433.01L177.48 435.91M174.58 435.91L177.48 433.01" stroke="#d62728" stroke-width="0.95" fill="none"/>
<path d="M189.41 442.80L192.31 445.70M189.41 445.70L192.31 442.80" stroke="#d62728" stroke-width="0.95" fill="none"/>
<path d="M204.25 450.56L207.15 453.46M204.25 453.46L207.15 450.56" stroke="#d62728" stroke-width="0.95" fill="none"/>
<path d="M219.09 433.01L221.99 435.91M219.09 435.91L221.99 433.01" stroke="#d62728" stroke-width="0.95" fill="none"/>
<path d="M233.93 458.60L236.83 461.50M233.93 461.50L236.83 458.60" stroke="#d62728" stroke-width="0.95" fill="none"/>
<path d="M248.76 451.56L251.66 454.46M248.76 454.46L251.66 451.56" stroke="#d62728" stroke-width="0.95" fill="none"/>
<polyline points="42.49,386.82 57.32,396.33 72.16,394.82 87.00,392.83 101.84,393.59 116.67,397.37 131.51,392.35 146.35,390.32 161.19,402.11 176.03,392.35 190.86,389.33 205.70,392.59 220.54,383.80 235.38,391.08 250.21,393.35" fill="none" stroke="#9467bd" stroke-width="1.3" stroke-linejoin="round"/>
<rect x="40.94" y="385.27" width="3.1" height="3.1" fill="#9467bd"/>
<rect x="55.77" y="394.78" width="3.1" height="3.1" fill="#9467bd"/>
<rect x="70.61" y="393.27" width="3.1" height="3.1" fill="#9467bd"/>
<rect x="85.45" y="391.28" width="3.1" height="3.1" fill="#9467bd"/>
<rect x="100.29" y="392.04" width="3.1" height="3.1" fill="#9467bd"/>
<rect x="115.12" y="395.82" width="3.1" height="3.1" fill="#9467bd"/>
<rect x="129.96" y="390.80" width="3.1" height="3.1" fill="#9467bd"/>
<rect x="144.80" y="388.77" width="3.1" height="3.1" fill="#9467bd"/>
<rect x="159.64" y="400.56" width="3.1" height="3.1" fill="#9467bd"/>
<rect x="174.48" y="390.80" width="3.1" height="3.1" fill="#9467bd"/>
<rect x="189.31" y="387.78" width="3.1" height="3.1" fill="#9467bd"/>
<rect x="204.15" y="391.04" width="3.1" height="3.1" fill="#9467bd"/>
<rect x="218.99" y="382.25" width="3.1" height="3.1" fill="#9467bd"/>
<rect x="233.83" y="389.53" width="3.1" height="3.1" fill="#9467bd"/>
<rect x="248.66" y="391.80" width="3.1" height="3.1" fill="#9467bd"/>
<polyline points="42.49,385.31 57.32,391.84 72.16,393.83 87.00,389.57 101.84,390.32 116.67,394.82 131.51,392.08 146.35,387.34 161.19,400.12 176.03,387.58 190.86,386.07 205.70,392.08 220.54,383.28 235.38,388.85 250.21,391.08" fill="none" stroke="#8c564b" stroke-width="1.1" stroke-linejoin="round"/>
<circle cx="42.49" cy="385.31" r="1.7" fill="#8c564b"/>
<circle cx="57.32" cy="391.84" r="1.7" fill="#8c564b"/>
<circle cx="72.16" cy="393.83" r="1.7" fill="#8c564b"/>
<circle cx="87.00" cy="389.57" r="1.7" fill="#8c564b"/>
<circle cx="101.84" cy="390.32" r="1.7" fill="#8c564b"/>
<circle cx="116.67" cy="394.82" r="1.7" fill="#8c564b"/>
<circle cx="131.51" cy="392.08" r="1.7" fill="#8c564b"/>
<circle cx="146.35" cy="387.34" r="1.7" fill="#8c564b"/>
<circle cx="161.19" cy="400.12" r="1.7" fill="#8c564b"/>
<circle cx="176.03" cy="387.58" r="1.7" fill="#8c564b"/>
<circle cx="190.86" cy="386.07" r="1.7" fill="#8c564b"/>
<circle cx="205.70" cy="392.08" r="1.7" fill="#8c564b"/>
<circle cx="220.54" cy="383.28" r="1.7" fill="#8c564b"/>
<circle cx="235.38" cy="388.85" r="1.7" fill="#8c564b"/>
<circle cx="250.21" cy="391.08" r="1.7" fill="#8c564b"/>
<polyline points="42.49,471.08 57.32,488.11 72.16,479.08 87.00,488.11 101.84,466.82 116.67,495.64 131.51,474.34 146.35,469.05 161.19,473.59 176.03,463.56 190.86,479.60 205.70,467.06 220.54,472.83 235.38,455.52 250.21,466.54" fill="none" stroke="#e377c2" stroke-width="1.2" stroke-linejoin="round"/>
<circle cx="42.49" cy="471.08" r="1.7" fill="#e377c2"/>
<circle cx="57.32" cy="488.11" r="1.7" fill="#e377c2"/>
<circle cx="72.16" cy="479.08" r="1.7" fill="#e377c2"/>
<circle cx="87.00" cy="488.11" r="1.7" fill="#e377c2"/>
<circle cx="101.84" cy="466.82" r="1.7" fill="#e377c2"/>
<circle cx="116.67" cy="495.64" r="1.7" fill="#e377c2"/>
<circle cx="131.51" cy="474.34" r="1.7" fill="#e377c2"/>
<circle cx="146.35" cy="469.05" r="1.7" fill="#e377c2"/>
<circle cx="161.19" cy="473.59" r="1.7" fill="#e377c2"/>
<circle cx="176.03" cy="463.56" r="1.7" fill="#e377c2"/>
<circle cx="190.86" cy="479.60" r="1.7" fill="#e377c2"/>
<circle cx="205.70" cy="467.06" r="1.7" fill="#e377c2"/>
<circle cx="220.54" cy="472.83" r="1.7" fill="#e377c2"/>
<circle cx="235.38" cy="455.52" r="1.7" fill="#e377c2"/>
<circle cx="250.21" cy="466.54" r="1.7" fill="#e377c2"/>
<polyline points="42.49,397.85 57.32,400.87 72.16,400.87 87.00,398.60 101.84,401.59 116.67,406.36 131.51,404.14 146.35,394.82 161.19,405.13 176.03,397.85 190.86,404.14 205.70,399.88 220.54,396.33 235.38,409.39 250.21,400.35" fill="none" stroke="#7f7f7f" stroke-width="1.1" stroke-linejoin="round"/>
<path d="M42.49 396.75L42.49 398.95M41.39 397.85L43.59 397.85" stroke="#7f7f7f" stroke-width="0.6" fill="none"/>
<path d="M57.32 399.77L57.32 401.97M56.22 400.87L58.42 400.87" stroke="#7f7f7f" stroke-width="0.6" fill="none"/>
<path d="M72.16 399.77L72.16 401.97M71.06 400.87L73.26 400.87" stroke="#7f7f7f" stroke-width="0.6" fill="none"/>
<path d="M87.00 397.50L87.00 399.70M85.90 398.60L88.10 398.60" stroke="#7f7f7f" stroke-width="0.6" fill="none"/>
<path d="M101.84 400.49L101.84 402.69M100.74 401.59L102.94 401.59" stroke="#7f7f7f" stroke-width="0.6" fill="none"/>
<path d="M116.67 405.26L116.67 407.46M115.57 406.36L117.77 406.36" stroke="#7f7f7f" stroke-width="0.6" fill="none"/>
<path d="M131.51 403.04L131.51 405.24M130.41 404.14L132.61 404.14" stroke="#7f7f7f" stroke-width="0.6" fill="none"/>
<path d="M146.35 393.72L146.35 395.92M145.25 394.82L147.45 394.82" stroke="#7f7f7f" stroke-width="0.6" fill="none"/>
<path d="M161.19 404.03L161.19 406.23M160.09 405.13L162.29 405.13" stroke="#7f7f7f" stroke-width="0.6" fill="none"/>
<path d="M176.03 396.75L176.03 398.95M174.93 397.85L177.13 397.85" stroke="#7f7f7f" stroke-width="0.6" fill="none"/>
<path d="M190.86 403.04L190.86 405.24M189.76 404.14L191.96 404.14" stroke="#7f7f7f" stroke-width="0.6" fill="none"/>
<path d="M205.70 398.78L205.70 400.98M204.60 399.88L206.80 399.88" stroke="#7f7f7f" stroke-width="0.6" fill="none"/>
<path d="M220.54 395.23L220.54 397.43M219.44 396.33L221.64 396.33" stroke="#7f7f7f" stroke-width="0.6" fill="none"/>
<path d="M235.38 408.29L235.38 410.49M234.28 409.39L236.48 409.39" stroke="#7f7f7f" stroke-width="0.6" fill="none"/>
<path d="M250.21 399.25L250.21 401.45M249.11 400.35L251.31 400.35" stroke="#7f7f7f" stroke-width="0.6" fill="none"/>
<rect x="32.10" y="377.50" width="228.50" height="134.20" fill="none" stroke="#333" stroke-width="0.5"/>
<line x1="30.40" y1="498.70" x2="32.10" y2="498.70" stroke="#333" stroke-width="0.5"/>
<text x="28.80" y="500.35" class="tk" text-anchor="end">0.65</text>
<line x1="30.40" y1="478.80" x2="32.10" y2="478.80" stroke="#333" stroke-width="0.5"/>
<text x="28.80" y="480.45" class="tk" text-anchor="end">0.70</text>
<line x1="30.40" y1="458.90" x2="32.10" y2="458.90" stroke="#333" stroke-width="0.5"/>
<text x="28.80" y="460.55" class="tk" text-anchor="end">0.75</text>
<line x1="30.40" y1="439.00" x2="32.10" y2="439.00" stroke="#333" stroke-width="0.5"/>
<text x="28.80" y="440.65" class="tk" text-anchor="end">0.80</text>
<line x1="30.40" y1="419.10" x2="32.10" y2="419.10" stroke="#333" stroke-width="0.5"/>
<text x="28.80" y="420.75" class="tk" text-anchor="end">0.85</text>
<line x1="30.40" y1="399.20" x2="32.10" y2="399.20" stroke="#333" stroke-width="0.5"/>
<text x="28.80" y="400.85" class="tk" text-anchor="end">0.90</text>
<line x1="30.40" y1="379.30" x2="32.10" y2="379.30" stroke="#333" stroke-width="0.5"/>
<text x="28.80" y="380.95" class="tk" text-anchor="end">0.95</text>
<line x1="42.49" y1="511.70" x2="42.49" y2="513.40" stroke="#333" stroke-width="0.5"/>
<text x="42.49" y="518.80" class="tk" text-anchor="middle">1</text>
<line x1="57.32" y1="511.70" x2="57.32" y2="513.40" stroke="#333" stroke-width="0.5"/>
<text x="57.32" y="518.80" class="tk" text-anchor="middle">2</text>
<line x1="72.16" y1="511.70" x2="72.16" y2="513.40" stroke="#333" stroke-width="0.5"/>
<text x="72.16" y="518.80" class="tk" text-anchor="middle">3</text>
<line x1="87.00" y1="511.70" x2="87.00" y2="513.40" stroke="#333" stroke-width="0.5"/>
<text x="87.00" y="518.80" class="tk" text-anchor="middle">4</text>
<line x1="101.84" y1="511.70" x2="101.84" y2="513.40" stroke="#333" stroke-width="0.5"/>
<text x="101.84" y="518.80" class="tk" text-anchor="middle">5</text>
<line x1="116.67" y1="511.70" x2="116.67" y2="513.40" stroke="#333" stroke-width="0.5"/>
<text x="116.67" y="518.80" class="tk" text-anchor="middle">6</text>
<line x1="131.51" y1="511.70" x2="131.51" y2="513.40" stroke="#333" stroke-width="0.5"/>
<text x="131.51" y="518.80" class="tk" text-anchor="middle">7</text>
<line x1="146.35" y1="511.70" x2="146.35" y2="513.40" stroke="#333" stroke-width="0.5"/>
<text x="146.35" y="518.80" class="tk" text-anchor="middle">8</text>
<line x1="161.19" y1="511.70" x2="161.19" y2="513.40" stroke="#333" stroke-width="0.5"/>
<text x="161.19" y="518.80" class="tk" text-anchor="middle">9</text>
<line x1="176.03" y1="511.70" x2="176.03" y2="513.40" stroke="#333" stroke-width="0.5"/>
<text x="176.03" y="518.80" class="tk" text-anchor="middle">10</text>
<line x1="190.86" y1="511.70" x2="190.86" y2="513.40" stroke="#333" stroke-width="0.5"/>
<text x="190.86" y="518.80" class="tk" text-anchor="middle">11</text>
<line x1="205.70" y1="511.70" x2="205.70" y2="513.40" stroke="#333" stroke-width="0.5"/>
<text x="205.70" y="518.80" class="tk" text-anchor="middle">12</text>
<line x1="220.54" y1="511.70" x2="220.54" y2="513.40" stroke="#333" stroke-width="0.5"/>
<text x="220.54" y="518.80" class="tk" text-anchor="middle">13</text>
<line x1="235.38" y1="511.70" x2="235.38" y2="513.40" stroke="#333" stroke-width="0.5"/>
<text x="235.38" y="518.80" class="tk" text-anchor="middle">14</text>
<line x1="250.21" y1="511.70" x2="250.21" y2="513.40" stroke="#333" stroke-width="0.5"/>
<text x="250.21" y="518.80" class="tk" text-anchor="middle">15</text>
<text x="146.35" y="526.70" class="lb" text-anchor="middle">Dataset</text>
<text transform="translate(14.30,444.60) rotate(-90)" class="lb" style="font-size:6.85px" text-anchor="middle">F1 Score</text>
<rect x="272" y="408.5" width="78" height="74.5" fill="#999"/>
<rect x="271" y="407.3" width="77.8" height="74.2" fill="#fff" stroke="#d6d6d6" stroke-width="0.6"/>
<line x1="273" y1="412.30" x2="287.3" y2="412.30" stroke="#1f77b4" stroke-width="1.0" opacity="1.0"/>
<circle cx="280.10" cy="412.30" r="1.7" fill="#1f77b4"/>
<text x="292.2" y="414.70" class="lg">OCSVM</text>
<line x1="273" y1="421.42" x2="287.3" y2="421.42" stroke="#ff7f0e" stroke-width="1.0" opacity="1.0"/>
<circle cx="280.10" cy="421.42" r="1.35" fill="#ff7f0e"/>
<text x="292.2" y="423.82" class="lg">iForest</text>
<line x1="273" y1="430.54" x2="287.3" y2="430.54" stroke="#2ca02c" stroke-width="1.0" opacity="1.0"/>
<circle cx="280.10" cy="430.54" r="1.1" fill="#2ca02c"/>
<text x="292.2" y="432.94" class="lg">Feature Bagging</text>
<line x1="273" y1="439.66" x2="287.3" y2="439.66" stroke="#d62728" stroke-width="1.0" opacity="1.0"/>
<path d="M278.65 438.21L281.55 441.11M278.65 441.11L281.55 438.21" stroke="#d62728" stroke-width="0.95" fill="none"/>
<text x="292.2" y="442.06" class="lg">HBOD</text>
<line x1="273" y1="448.78" x2="287.3" y2="448.78" stroke="#9467bd" stroke-width="1.9" opacity="0.6"/>
<rect x="278.55" y="447.23" width="3.1" height="3.1" fill="#9467bd"/>
<text x="292.2" y="451.18" class="lg">CBLOF</text>
<line x1="273" y1="457.90" x2="287.3" y2="457.90" stroke="#8c564b" stroke-width="1.9" opacity="0.6"/>
<circle cx="280.10" cy="457.90" r="1.7" fill="#8c564b"/>
<text x="292.2" y="460.30" class="lg">KNNOD</text>
<line x1="273" y1="467.02" x2="287.3" y2="467.02" stroke="#e377c2" stroke-width="1.9" opacity="0.6"/>
<circle cx="280.10" cy="467.02" r="1.7" fill="#e377c2"/>
<text x="292.2" y="469.42" class="lg">LOF</text>
<line x1="273" y1="476.14" x2="287.3" y2="476.14" stroke="#7f7f7f" stroke-width="1.0" opacity="1.0"/>
<path d="M280.10 475.04L280.10 477.24M279.00 476.14L281.20 476.14" stroke="#7f7f7f" stroke-width="0.6" fill="none"/>
<text x="292.2" y="478.54" class="lg">ABOD</text>
<text x="108.2" y="176.2" class="cap" textLength="13.20" lengthAdjust="spacingAndGlyphs" font-weight="bold">(a)</text>
<text x="123.9" y="176.2" class="cap" textLength="36.10" lengthAdjust="spacingAndGlyphs" >Precision</text>
<text x="114.9" y="360.9" class="cap" textLength="13.10" lengthAdjust="spacingAndGlyphs" font-weight="bold">(b)</text>
<text x="131.1" y="360.9" class="cap" textLength="22.70" lengthAdjust="spacingAndGlyphs" >Recall</text>
<text x="155.8" y="543.2" class="cap" textLength="12.10" lengthAdjust="spacingAndGlyphs" font-weight="bold">(c)</text>
<text x="170.8" y="543.2" class="cap" textLength="5.20" lengthAdjust="spacingAndGlyphs" font-style="italic">F</text>
<text x="175.9" y="544.6" class="cap" style="font-size:5.6px">1</text>
<text x="180.6" y="543.2" class="cap" textLength="21.50" lengthAdjust="spacingAndGlyphs" >Score</text>
</svg>
</body></html>
